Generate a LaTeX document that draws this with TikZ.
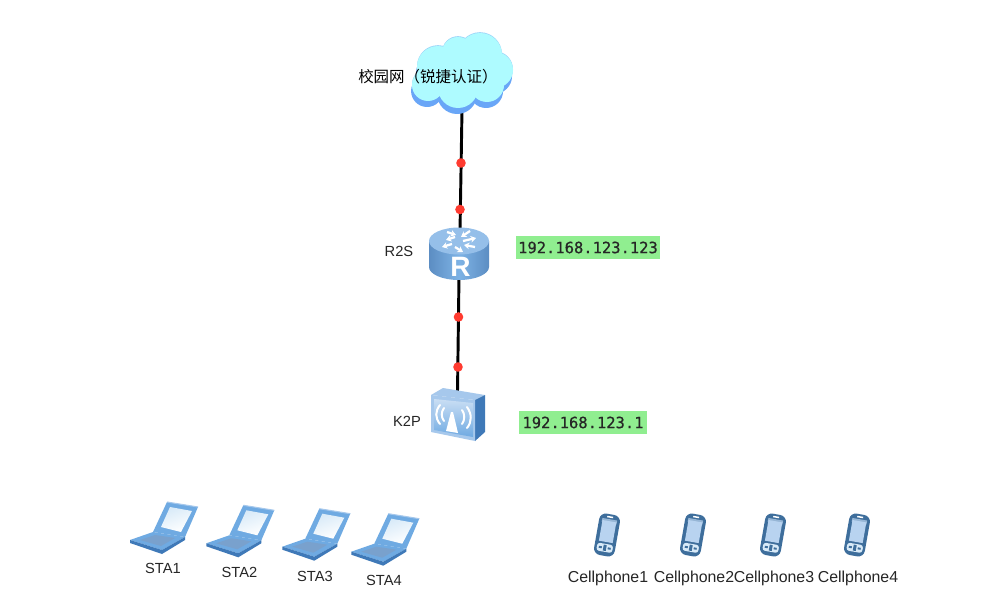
\documentclass[tikz,border=0pt]{standalone}
\usepackage{fontspec}
\setmainfont{Liberation Sans}
\newfontfamily\cjkfont{Noto Sans CJK SC}
\newfontfamily\ipfont[FakeBold=0.6]{DejaVu Sans Mono}
\usetikzlibrary{arrows.meta,calc}
\definecolor{cloudlight}{HTML}{AEFBFF}
\definecolor{cloudedge}{HTML}{9AD4F8}
\definecolor{cloudshadow}{HTML}{69A6F7}
\definecolor{ipgreen}{HTML}{90EE90}
\definecolor{reddot}{HTML}{FF3B30}
\definecolor{devdark}{HTML}{3F79B8}
\definecolor{devmid}{HTML}{6FAAE2}
\definecolor{devlight}{HTML}{A6C8EC}
\definecolor{devpale}{HTML}{D8EAF8}
\definecolor{phonedark}{HTML}{3E6E9C}
\tikzset{
  x=0.75pt,y=-0.75pt,
  link/.style={line width=2.2pt,black},
  reddotnode/.style={circle,fill=reddot,inner sep=0pt,minimum size=7.2pt},
  lab/.style={inner sep=0pt,font=\fontsize{11pt}{12pt}\selectfont,text=black!85},
  phonelab/.style={inner sep=0pt,font=\fontsize{11.9pt}{13pt}\selectfont,text=black!85},
  iplabel/.style={fill=ipgreen,inner sep=0pt,minimum height=17pt,font=\ipfont\fontsize{11.6pt}{13pt}\selectfont,text=black!85},
  rarrow/.style={white,line width=1.7pt,-{Stealth[length=4pt,width=5pt]}},
  laptop/.pic={
    \fill[devmid] (42,-3)--(73,2)--(60,32)--(28,27)--cycle;
    \draw[devlight,line width=0.8pt] (42,-3)--(73,2);
    \shade[left color=devpale,right color=white,shading angle=20] (45,2)--(67,6)--(56,27)--(36,22)--cycle;
    \fill[devmid] (5,35)--(28,27)--(60,32)--(37,45)--cycle;
    \fill[devdark] (5,35)--(37,45)--(60,32)--(60,35)--(37,49)--(5,38)--cycle;
    \fill[devdark!70!white] (15,35)--(30,30)--(50,33)--(36,41)--cycle;
  },
  phone/.pic={
    \begin{scope}[rotate=-10]
      \fill[phonedark,rounded corners=5pt] (-10.5,-21) rectangle (10.5,21);
      \fill[devlight!60!phonedark!80!white] (-7.5,-16) rectangle (7.5,-12);
      \fill[devlight!80!white] (-7,-14) rectangle (7,7);
      \fill[devpale,rounded corners=2pt] (-8,9) rectangle (8,17);
      \fill[phonedark] (-1.5,10) rectangle (1.5,16);
      \fill[phonedark] (-6,12) rectangle (-3,14);
      \fill[phonedark] (3,12) rectangle (6,14);
      \fill[white] (-3,-19) rectangle (3,-17.5);
    \end{scope}
  }
}
\newcommand{\cloudlobes}[1]{
  \fill[#1] (438,67) circle[radius=21];
  \fill[#1] (458,53) circle[radius=16];
  \fill[#1] (480,55) circle[radius=22];
  \fill[#1] (495,70) circle[radius=18];
  \fill[#1] (428,85) circle[radius=16];
  \fill[#1] (458,88) circle[radius=20];
  \fill[#1] (487,85) circle[radius=17];
  \fill[#1] (462,72) ellipse[x radius=38,y radius=26];
}
\begin{document}
\begin{tikzpicture}
\useasboundingbox (0,0) rectangle (990,610);
\fill[white] (0,0) rectangle (990,610);

% connector end points
\coordinate (cloudb) at (462,110);
\coordinate (routert) at (460,232);
\coordinate (routerb) at (459,276);
\coordinate (apt) at (457.5,392);
\draw[link] (cloudb) -- (routert);
\draw[link] (routerb) -- (apt);
\node[reddotnode] (d1) at (461,163) {};
\node[reddotnode] (d2) at (460,209.5) {};
\node[reddotnode] (d3) at (458.5,317) {};
\node[reddotnode] (d4) at (458,367) {};

% cloud
\begin{scope}[xshift=-0.7pt,yshift=-4.5pt]
\cloudlobes{cloudshadow}
\end{scope}
\begin{scope}[yshift=0.6pt]
\cloudlobes{cloudedge}
\end{scope}
\cloudlobes{cloudlight}
\node[inner sep=0pt,anchor=west,font=\cjkfont\fontsize{11.6pt}{13pt}\selectfont] (cloudlabel) at (358,77) {校园网（锐捷认证）};

% router
\path[left color=devdark!85!white,right color=devdark!85!white,middle color=devmid!90!white]
  (429,241) -- (429,267) arc[start angle=180,end angle=0,x radius=30,y radius=13] -- (489,241) -- cycle;
\fill[devlight!70!devmid] (459,241) ellipse[x radius=30,y radius=13.5];
\draw[rarrow] (455,237)--(446,240);
\draw[rarrow] (452,244)--(442,247);
\draw[rarrow] (447,232)--(456,235);
\draw[rarrow] (470,231)--(461,237);
\draw[rarrow] (463,241)--(476,238);
\draw[rarrow] (475,247)--(464,245);
\draw[rarrow] (455,247)--(463,252);
\node[inner sep=0pt,text=white,font=\bfseries\fontsize{21pt}{22pt}\selectfont] (routerR) at (460.5,266.5) {R};
\node[lab] (r2s) at (399,251) {R2S};
\node[iplabel,minimum width=108pt] (ip1) at (588,247.5) {192.168.123.123};

% access point
\fill[devlight] (431,395)--(443,388)--(485,395)--(475,400)--cycle;
\fill[devdark] (475,400)--(485,395)--(485,432)--(475,441)--cycle;
\fill[devlight] (431,395)--(475,400)--(475,441)--(431,432)--cycle;
\shade[top color=devlight!60!white,bottom color=devmid] (434,399)--(473,403)--(473,437)--(434,430)--cycle;
\fill[white] (451,412)--(446,431)--(458,433)--(453,412)--cycle;
\draw[white,line width=1.5pt,line cap=round]
  (440,405) .. controls (435,411) and (435,418) .. (440,424)
  (444,408) .. controls (441,412) and (441,417) .. (444,421)
  (467,407) .. controls (472,414) and (472,422) .. (467,428)
  (462,410) .. controls (465,414) and (465,420) .. (462,424);
\node[lab] (k2p) at (407,421.5) {K2P};
\node[iplabel,minimum width=95.5pt] (ip2) at (583,422.5) {192.168.123.1};

% laptops
\pic at (125,505) {laptop};
\pic at (201.3,508.3) {laptop};
\pic at (277.3,511.7) {laptop};
\pic at (346.3,516.7) {laptop};
\node[lab] (sta1) at (163,568) {STA1};
\node[lab] (sta2) at (239.5,572) {STA2};
\node[lab] (sta3) at (315,576.5) {STA3};
\node[lab] (sta4) at (384,580) {STA4};

% phones
\pic at (607,535) {phone};
\pic at (693,535) {phone};
\pic at (773,535) {phone};
\pic at (857,535) {phone};
\node[phonelab] (c1) at (608,578) {Cellphone1};
\node[phonelab] (c2) at (694,578) {Cellphone2};
\node[phonelab] (c3) at (774,578) {Cellphone3};
\node[phonelab] (c4) at (858,578) {Cellphone4};
\end{tikzpicture}
\end{document}
